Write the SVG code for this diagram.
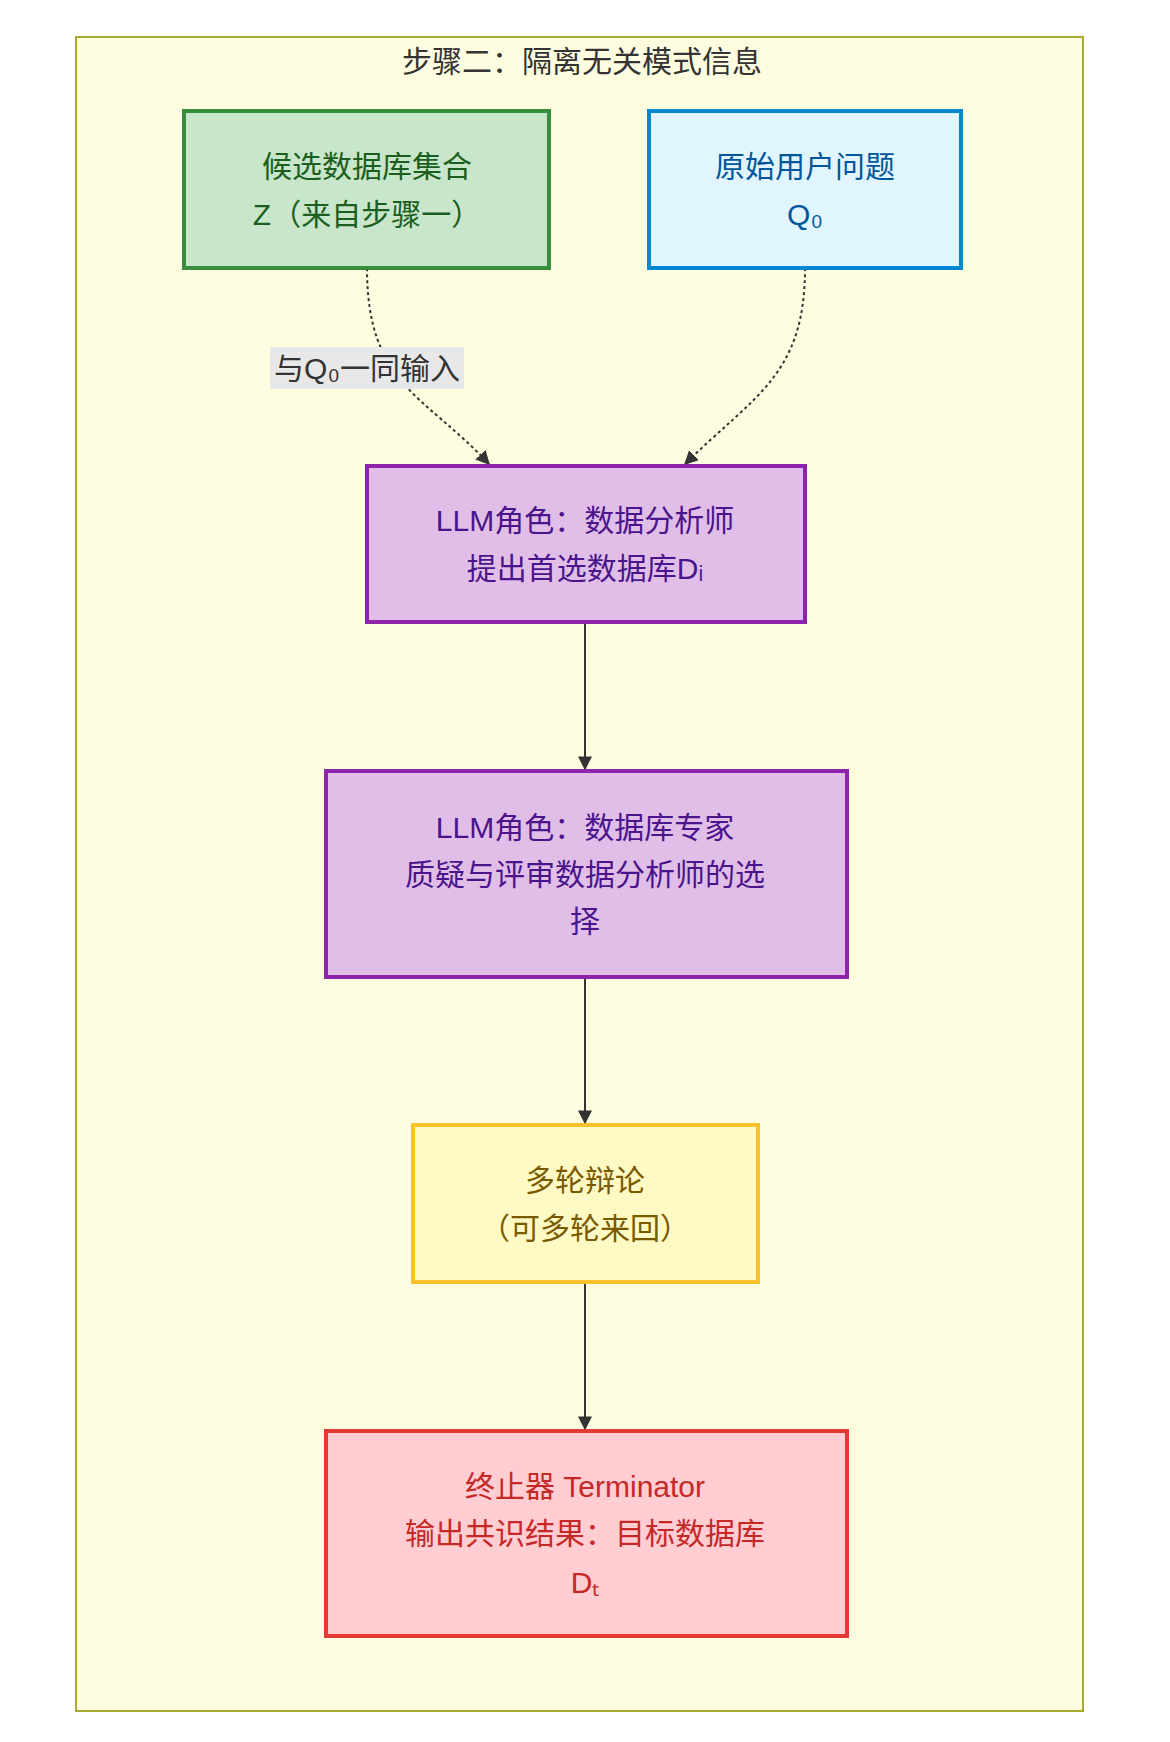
<svg xmlns="http://www.w3.org/2000/svg" width="1170" height="1742" viewBox="0 0 1170 1742">
<defs>
<marker id="ah" viewBox="0 0 10 10" refX="9" refY="5" markerWidth="7" markerHeight="7" orient="auto-start-reverse"><path d="M0,0L10,5L0,10z" fill="#333"/></marker>
<style>
text{font-family:"Liberation Sans","Noto Sans CJK SC",sans-serif;font-size:30px;text-anchor:middle}
.e{fill:none;stroke:#333;stroke-width:2}
.d{stroke-dasharray:3 3}
</style>
</defs>
<rect width="1170" height="1742" fill="#fff"/>
<g id="cluster">
<rect x="76" y="37" width="1007" height="1674" fill="#fffde0" stroke="#aaaa33" stroke-width="2"/>
<text x="582" y="72" fill="#333">步骤二：隔离无关模式信息</text>
</g>
<g id="edges">
<path class="e d" d="M367,268 C367,385 425,395 489,464" marker-end="url(#ah)"/>
<path class="e d" d="M805,268 C805,375 755,395 685,464" marker-end="url(#ah)"/>
<path class="e" d="M585,622 V769" marker-end="url(#ah)"/>
<path class="e" d="M585,977 V1123" marker-end="url(#ah)"/>
<path class="e" d="M585,1282 V1429" marker-end="url(#ah)"/>
<rect x="270" y="347" width="194" height="42" fill="#e8e8e8"/>
<text x="367" y="379" fill="#333">与Q₀一同输入</text>
</g>
<g id="Z">
<rect x="184" y="111" width="365" height="157" fill="#c8e6c9" stroke="#388e3c" stroke-width="4"/>
<text x="367" y="177" fill="#1b5e20">候选数据库集合</text>
<text x="367" y="225" fill="#1b5e20">Z（来自步骤一）</text>
</g>
<g id="Q">
<rect x="649" y="111" width="312" height="157" fill="#e1f5fe" stroke="#0288d1" stroke-width="4"/>
<text x="805" y="177" fill="#01579b">原始用户问题</text>
<text x="805" y="225" fill="#01579b">Q₀</text>
</g>
<g id="analyst">
<rect x="367" y="466" width="438" height="156" fill="#e1bee7" stroke="#8e24aa" stroke-width="4"/>
<text x="585" y="531" fill="#4a148c">LLM角色：数据分析师</text>
<text x="585" y="579" fill="#4a148c">提出首选数据库Dᵢ</text>
</g>
<g id="expert">
<rect x="326" y="771" width="521" height="206" fill="#e1bee7" stroke="#8e24aa" stroke-width="4"/>
<text x="585" y="838" fill="#4a148c">LLM角色：数据库专家</text>
<text x="585" y="885" fill="#4a148c">质疑与评审数据分析师的选</text>
<text x="585" y="932" fill="#4a148c">择</text>
</g>
<g id="debate">
<rect x="413" y="1125" width="345" height="157" fill="#fff9c4" stroke="#fbc02d" stroke-width="4"/>
<text x="585" y="1191" fill="#7a5a00">多轮辩论</text>
<text x="585" y="1239" fill="#7a5a00">（可多轮来回）</text>
</g>
<g id="term">
<rect x="326" y="1431" width="521" height="205" fill="#ffcdd2" stroke="#e53935" stroke-width="4"/>
<text x="585" y="1497" fill="#c62828">终止器 Terminator</text>
<text x="585" y="1544" fill="#c62828">输出共识结果：目标数据库</text>
<text x="585" y="1593" fill="#c62828">Dₜ</text>
</g>
</svg>
